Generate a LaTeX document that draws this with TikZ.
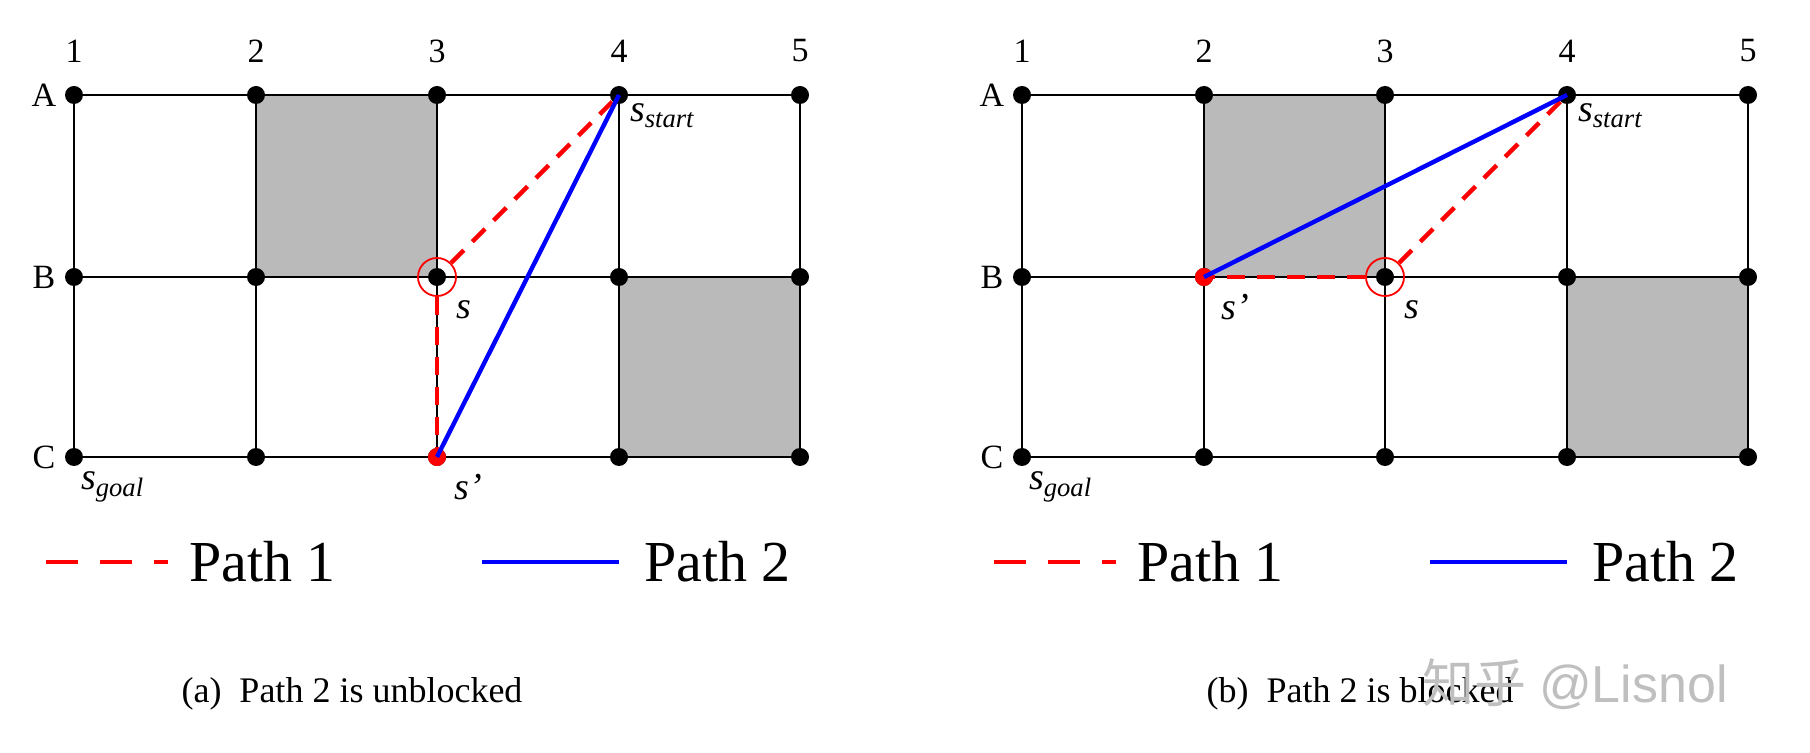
\documentclass[tikz,border=0pt]{standalone}
\usepackage{fontspec}
\setmainfont{Liberation Serif}
\newfontfamily\cjk{Noto Sans CJK SC}
\newfontfamily\wsans{Liberation Sans}
\begin{document}
\begin{tikzpicture}[x=0.5pt,y=-0.5pt,
  grid/.style={line width=0.8pt,black},
  dot/.style={circle,fill=black,inner sep=0pt,minimum size=9pt},
  rdot/.style={circle,fill=red,inner sep=0pt,minimum size=9pt},
  ring/.style={circle,draw=red,line width=0.9pt,inner sep=0pt,minimum size=19pt},
  p1/.style={red,line width=2.2pt,dash pattern=on 9pt off 6pt},
  p2/.style={blue,line width=2.2pt},
  lab/.style={font=\fontsize{17}{20}\selectfont},
  slab/.style={font=\fontsize{19}{22}\selectfont\itshape},
  leg/.style={font=\fontsize{29}{34}\selectfont},
  captext/.style={font=\fontsize{18}{22}\selectfont}]
\useasboundingbox (0,0) rectangle (1810,753);
\newcommand\mypanel[2]{%
\begin{scope}[shift={(#1,0)}]
  \fill[black!27] (182,95) rectangle (363,277);
  \fill[black!27] (545,277) rectangle (726,457);
  \foreach \y in {95,277,457} \draw[grid] (0,\y) -- (726,\y);
  \foreach \x in {0,182,363,545,726} \draw[grid] (\x,95) -- (\x,457);
  \foreach \c/\x in {1/0,2/182,3/363,4/545,5/726} {
    \node[lab] (#2c\c) at (\x,51) {\c};
    \foreach \r/\y in {A/95,B/277,C/457} \node[dot] (#2\r\c) at (\x,\y) {};
  }
  \foreach \r/\y in {A/95,B/277,C/457} \node[lab] (#2l\r) at (-30,\y) {\r};
  \node[slab,anchor=north west] (#2ss) at ([xshift=2pt,yshift=-1pt]#2A4) {s\textsubscript{start}};
  \node[slab,anchor=north west] (#2sg) at ([xshift=0pt,yshift=-4pt]#2C1) {s\textsubscript{goal}};
\end{scope}}
% panel a
\mypanel{74}{a}
\node[rdot] (aSp) at (aC3) {};
\node[ring] (aS) at (aB3) {};
\draw[p1] (aA4) -- (aS.north east);
\draw[p1] (aS.south) -- (aSp);
\draw[p2] (aA4.center) -- (aSp.center);
\node[slab,anchor=north west] at ([xshift=-1pt,yshift=-1pt]aS.south east) {s};
\node[slab,anchor=north west] at ([xshift=2pt,yshift=-2pt]aSp.south east) {s'};
\coordinate (aL1a) at (46,562); \coordinate (aL1b) at (168,562);
\draw[p1,dash pattern=on 16pt off 11pt] (aL1a) -- (aL1b);
\node[leg,anchor=west] (aP1) at (182,562) {Path 1};
\coordinate (aL2a) at (482,562); \coordinate (aL2b) at (619,562);
\draw[p2] (aL2a) -- (aL2b);
\node[leg,anchor=west] (aP2) at (637,562) {Path 2};
\node[captext] (acap) at (352,694) {(a)\ \ Path 2 is unblocked};
% panel b
\mypanel{1022}{b}
\node[rdot] (bSp) at (bB2) {};
\node[ring] (bS) at (bB3) {};
\draw[p1] (bA4) -- (bS.north east);
\draw[p1] (bS.west) -- (bSp);
\draw[p2] (bA4.center) -- (bSp.center);
\node[slab,anchor=north west] at ([xshift=-1pt,yshift=-1pt]bS.south east) {s};
\node[slab,anchor=north west] at ([xshift=2pt,yshift=-2pt]bSp.south east) {s'};
\coordinate (bL1a) at (994,562); \coordinate (bL1b) at (1116,562);
\draw[p1,dash pattern=on 16pt off 11pt] (bL1a) -- (bL1b);
\node[leg,anchor=west] (bP1) at (1130,562) {Path 1};
\coordinate (bL2a) at (1430,562); \coordinate (bL2b) at (1567,562);
\draw[p2] (bL2a) -- (bL2b);
\node[leg,anchor=west] (bP2) at (1585,562) {Path 2};
\node[captext] (bcap) at (1360,694) {(b)\ \ Path 2 is blocked};
\node[anchor=west,text=black!25,font=\fontsize{26}{30}\selectfont] (wm) at (1415,684) {{\cjk 知乎} {\wsans @Lisnol}};
\end{tikzpicture}
\end{document}
